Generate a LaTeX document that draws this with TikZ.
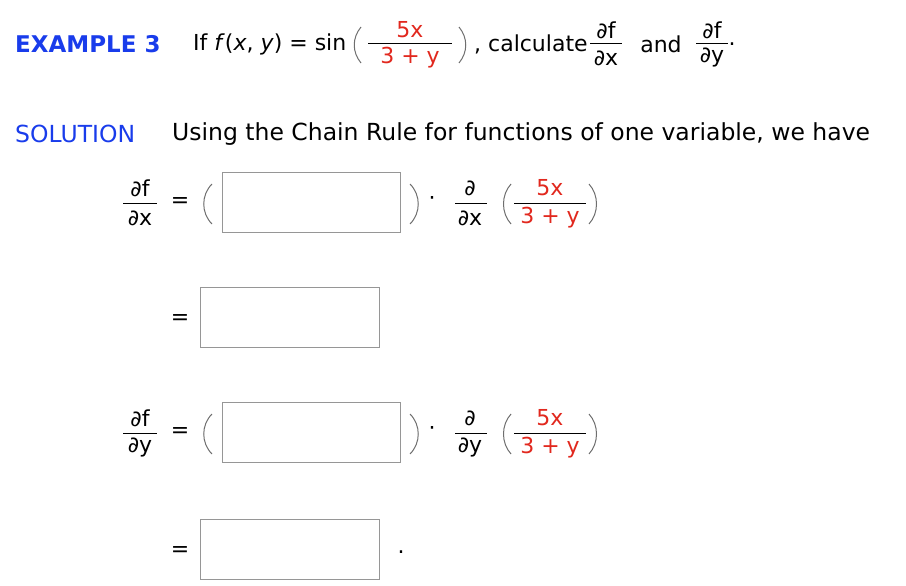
\documentclass[tikz,border=0pt]{standalone}
\usepackage{fontspec}
\setmainfont{DejaVu Sans}
\begin{document}
\begin{tikzpicture}[x=1pt,y=-1pt,
  txt/.style={inner sep=0pt,font=\fontsize{22}{26}\selectfont},
  blue/.style={txt,text={rgb,255:red,25;green,60;blue,235}},
  red/.style={txt,text={rgb,255:red,225;green,40;blue,30}},
  ansbox/.style={draw={rgb,255:red,150;green,150;blue,150},line width=1pt},
  bar/.style={line width=1pt},
  paren/.style={line width=1pt,draw={rgb,255:red,110;green,110;blue,110}}]
\useasboundingbox (0,0) rectangle (906,586);
% header
\node[blue,anchor=west,font=\fontsize{23}{27}\bfseries] (ex) at (15,44) {EXAMPLE 3};
\node[txt,anchor=west] (if) at (193,44) {If \textit{f}(\textit{x}, \textit{y}) = sin};
\draw[paren] (361,27) .. controls (352,38) and (352,52) .. (361,63);
\node[red] (hn) at (410,30) {5x};
\node[red] (hd) at (410,58) {3 + y};
\draw[bar] (368,44) -- (452,44);
\draw[paren] (459,27) .. controls (468,38) and (468,52) .. (459,63);
\node[txt,anchor=west] (calc) at (474,44) {, calculate};
\node[txt] (f1n) at (606,30) {∂f};
\node[txt] (f1d) at (606,58) {∂x};
\draw[bar] (590,44) -- (622,44);
\node[txt] (and) at (661,44) {and};
\node[txt] (f2n) at (712,30) {∂f};
\node[txt] (f2d) at (712,58) {∂y};
\draw[bar] (696,44) -- (728,44);
\node[txt] (dot) at (732,44) {.};
% solution
\node[blue,anchor=west,font=\fontsize{23.5}{27}\selectfont] (sol) at (15,134) {SOLUTION};
\node[txt,anchor=west,font=\fontsize{23.5}{27}\selectfont] (use) at (172,134) {Using the Chain Rule for functions of one variable, we have};
% rows with chain rule
\foreach \y/\v in {203/x,433/y}{
  \node[txt] at (140,\y-15) {∂f};
  \node[txt] at (140,\y+15) {∂\v};
  \draw[bar] (123,\y) -- (157,\y);
  \node[txt] at (180,\y) {=};
  \draw[paren] (212,\y-19) .. controls (201,\y-8) and (201,\y+10) .. (212,\y+21);
  \draw[ansbox] (222,\y-31) rectangle (400,\y+29);
  \draw[paren] (410,\y-19) .. controls (421,\y-8) and (421,\y+10) .. (410,\y+21);
  \node[txt] at (432,\y-2) {·};
  \node[txt] at (470,\y-15) {∂};
  \node[txt] at (470,\y+15) {∂\v};
  \draw[bar] (455,\y) -- (487,\y);
  \draw[paren] (511,\y-19) .. controls (501,\y-8) and (501,\y+10) .. (511,\y+21);
  \node[red] at (550,\y-15) {5x};
  \node[red] at (550,\y+15) {3 + y};
  \draw[bar] (514,\y) -- (586,\y);
  \draw[paren] (589,\y-19) .. controls (599,\y-8) and (599,\y+10) .. (589,\y+21);
}
\foreach \y in {320,552}{
  \node[txt] at (180,\y) {=};
  \draw[ansbox] (200,\y-33) rectangle (379,\y+27);
}
\node[txt] (end) at (401,552) {.};
\end{tikzpicture}
\end{document}
